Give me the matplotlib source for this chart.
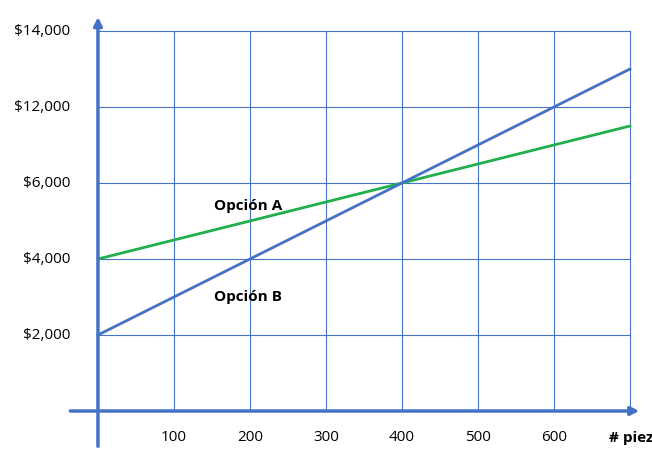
import matplotlib
matplotlib.use("Agg")
import matplotlib.pyplot as plt

x_pts = [0, 400, 700]
opcion_a = [2, 3, 3.75]
opcion_b = [1, 3, 4.5]
x_ticks = [100, 200, 300, 400, 500, 600]
y_levels = [1, 2, 3, 4, 5]
y_labels = ["$2,000", "$4,000", "$6,000", "$12,000", "$14,000"]

plt.rcParams['font.family'] = ['Open Sans', 'DejaVu Sans']
fig = plt.figure(figsize=(6.52, 4.56), dpi=100)
ax = fig.add_axes([0, 0, 1, 1])
ax.set_xlim(-128.9, 729)
ax.set_ylim(-0.579, 5.421)
ax.axis('off')

blue = '#4472C4'
for xv in x_ticks + [700]:
    ax.plot([xv, xv], [0, 5], color=blue, lw=0.8, zorder=1)
for yv in y_levels:
    ax.plot([0, 700], [yv, yv], color=blue, lw=0.8, zorder=1)

ax.plot(x_pts, opcion_a, color='#1FAF4B', lw=2, zorder=3)
ax.plot(x_pts, opcion_b, color=blue, lw=2, zorder=3)

ax.annotate('', xy=(0, 5.22), xytext=(0, -0.5),
            arrowprops=dict(arrowstyle='-|>', color=blue, lw=2.5, mutation_scale=12), zorder=4)
ax.annotate('', xy=(716, 0), xytext=(-40, 0),
            arrowprops=dict(arrowstyle='-|>', color=blue, lw=2.5, mutation_scale=12), zorder=4)

for xv in x_ticks:
    ax.text(xv, -0.34, str(xv), ha='center', va='center', fontsize=11)
ax.text(673, -0.34, '# piezas', ha='left', va='center', fontsize=11, fontweight='bold')
for yv, lab in zip(y_levels, y_labels):
    ax.text(-36, yv, lab, ha='right', va='center', fontsize=11)

ax.text(197, 2.71, 'Opción A', ha='center', va='center', fontsize=11, fontweight='bold')
ax.text(197, 1.51, 'Opción B', ha='center', va='center', fontsize=11, fontweight='bold')

fig.savefig('out.png', dpi=100)
